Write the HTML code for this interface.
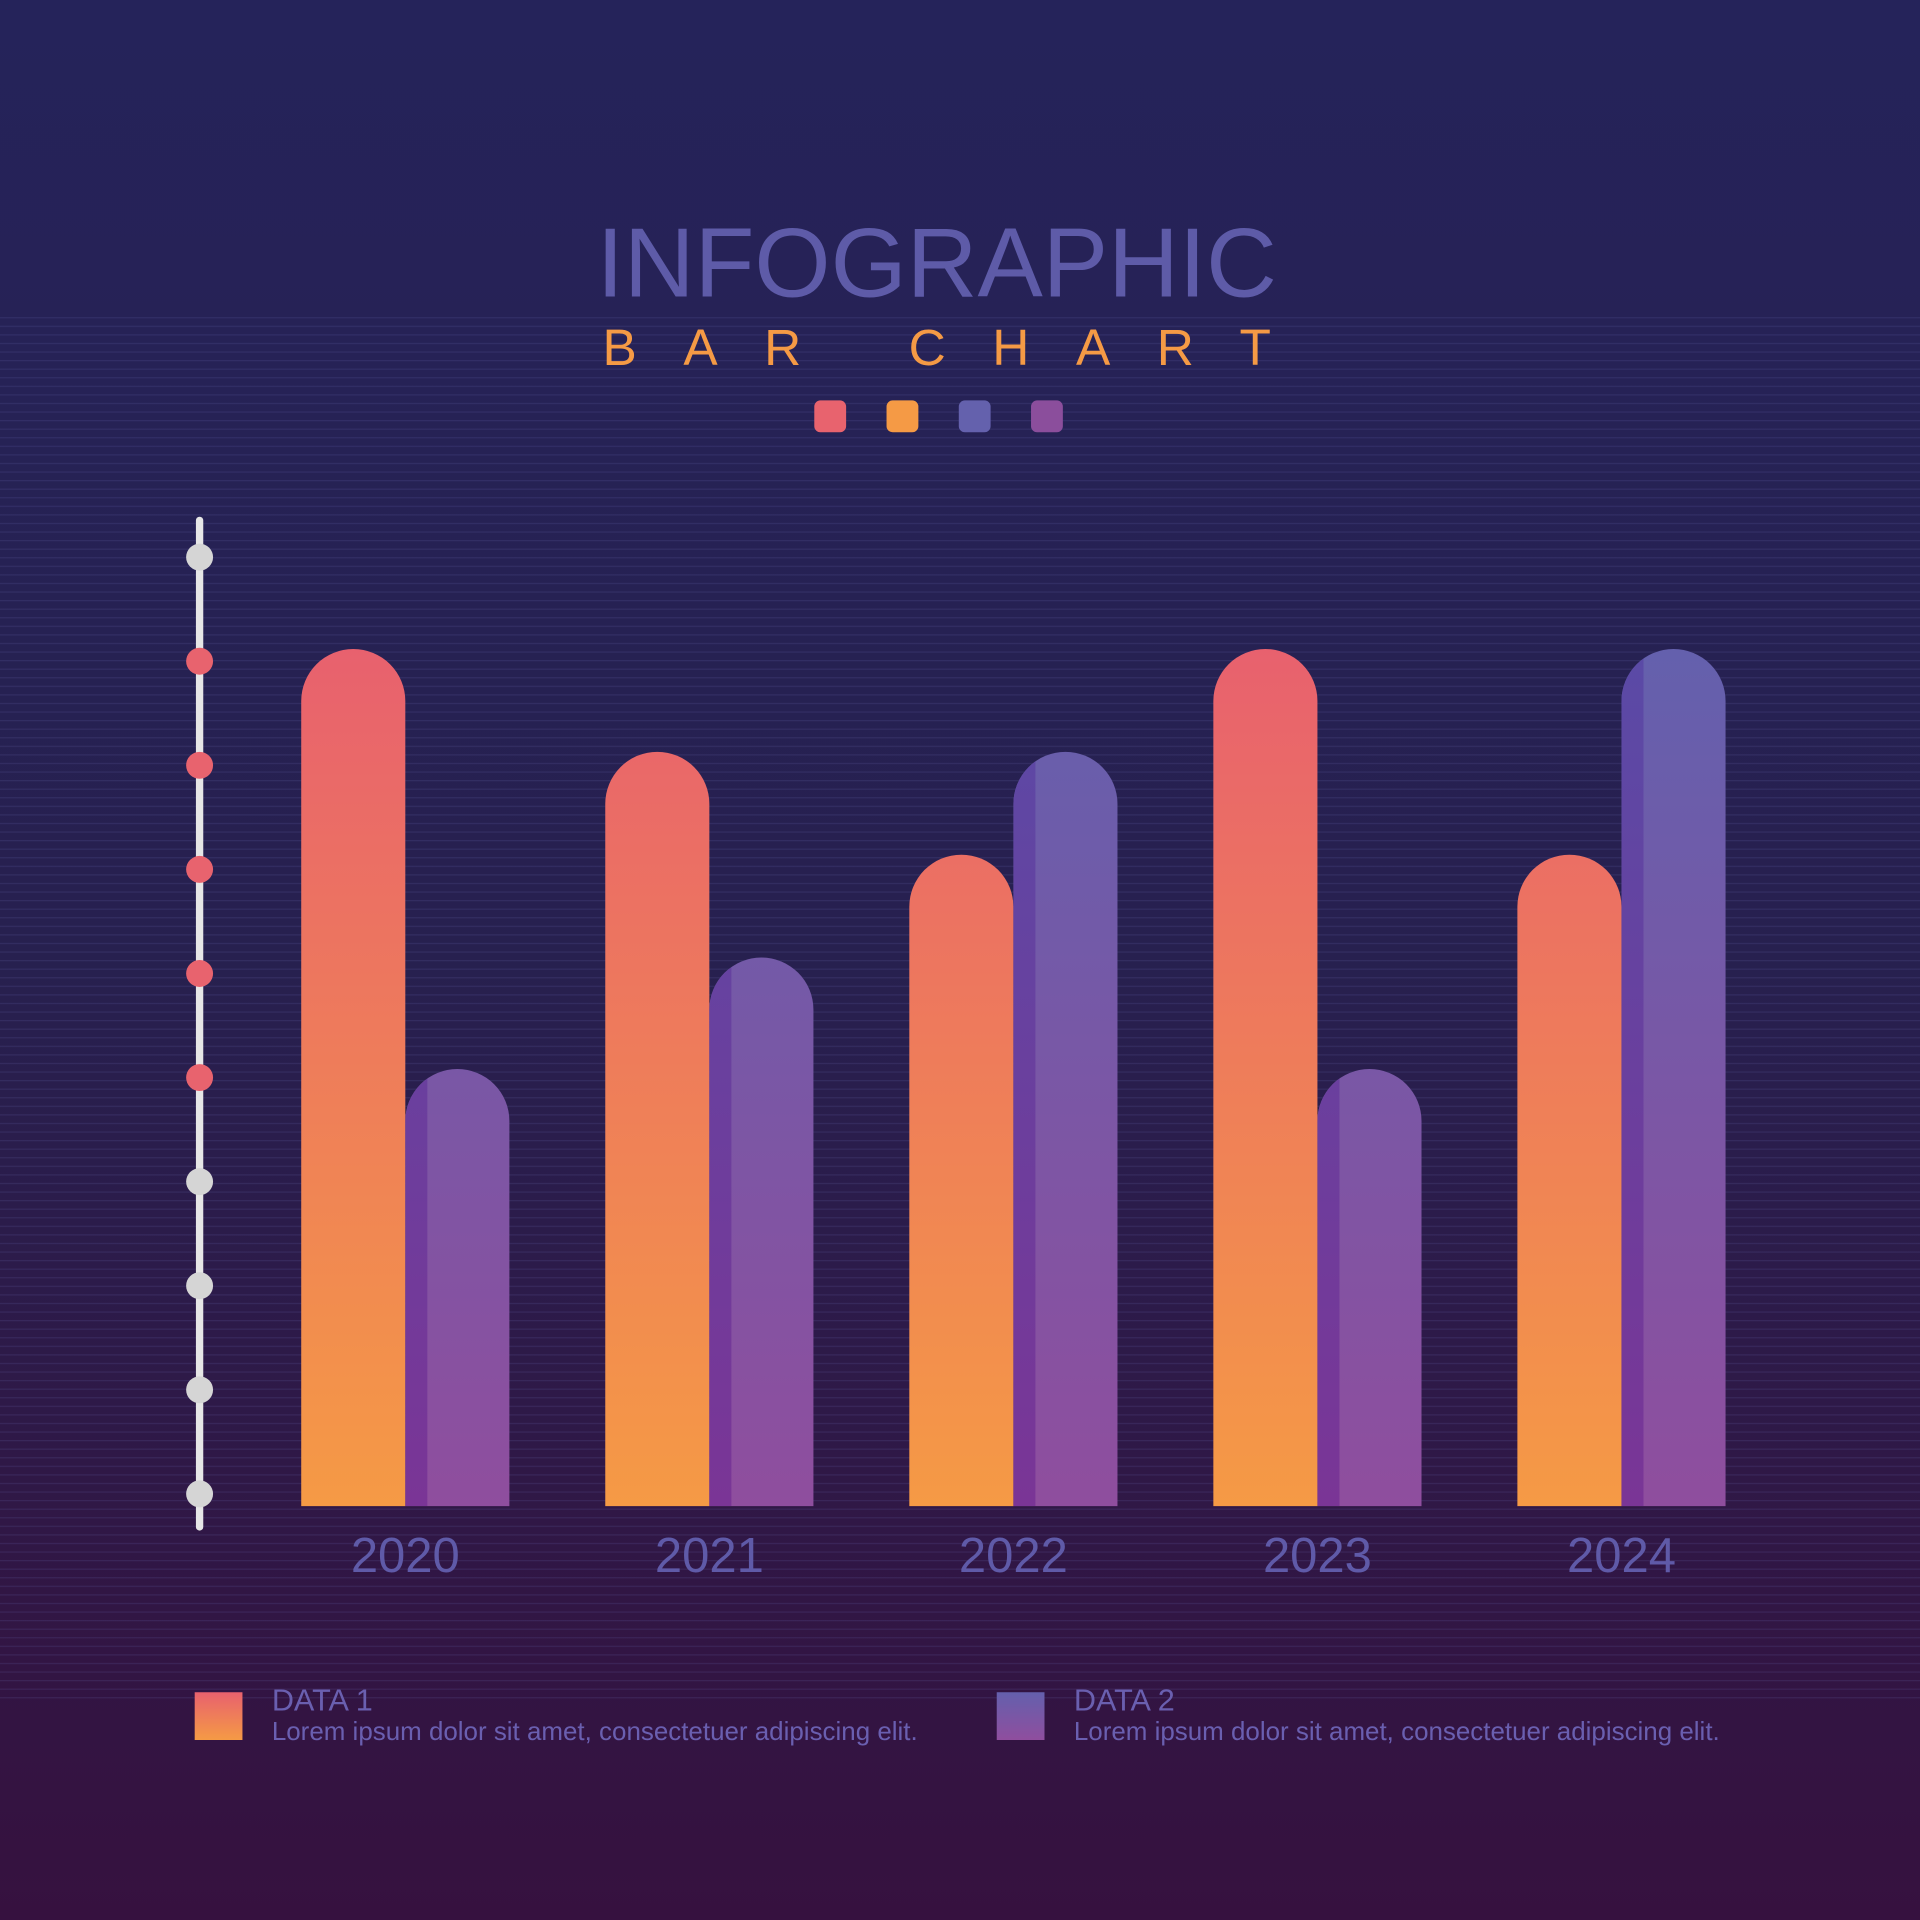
<!DOCTYPE html>
<html><head><meta charset="utf-8"><style>
html,body{margin:0;padding:0;width:1920px;height:1920px;overflow:hidden;background:#2c1a4c}
svg{display:block}
</style></head><body>
<svg id="chart" width="1920" height="1920" viewBox="0 0 1568 1568" xmlns="http://www.w3.org/2000/svg">
<defs>
<linearGradient id="bg" x1="0" y1="0" x2="0" y2="1">
<stop offset="0" stop-color="#25235a"/><stop offset="0.5" stop-color="#27204f"/><stop offset="1" stop-color="#36113f"/>
</linearGradient>
<pattern id="lines" width="8" height="7" patternUnits="userSpaceOnUse">
<rect width="8" height="1" fill="#6a6ab0" opacity="0.18"/>
</pattern>
<linearGradient id="g1" gradientUnits="userSpaceOnUse" x1="0" y1="530" x2="0" y2="1230">
<stop offset="0" stop-color="#e8616e"/><stop offset="1" stop-color="#f59a45"/>
</linearGradient>
<linearGradient id="g2" gradientUnits="userSpaceOnUse" x1="0" y1="530" x2="0" y2="1230">
<stop offset="0" stop-color="#6460ad"/><stop offset="1" stop-color="#8f4e9e"/>
</linearGradient>
<linearGradient id="g2s" gradientUnits="userSpaceOnUse" x1="0" y1="530" x2="0" y2="1230">
<stop offset="0" stop-color="#5a4aa6"/><stop offset="1" stop-color="#7a3596"/>
</linearGradient>
<linearGradient id="lg1" x1="0" y1="0" x2="0" y2="1"><stop offset="0" stop-color="#e8616e"/><stop offset="1" stop-color="#f59a45"/></linearGradient>
<linearGradient id="lg2" x1="0" y1="0" x2="0" y2="1"><stop offset="0" stop-color="#6460ad"/><stop offset="1" stop-color="#8f4e9e"/></linearGradient>
</defs>
<rect width="1568" height="1568" fill="url(#bg)"/>
<rect y="255" width="1568" height="1135" fill="url(#lines)"/>
<text x="765" y="242" text-anchor="middle" font-family="Liberation Sans, sans-serif" font-size="80" fill="#5e5ba8">INFOGRAPHIC</text>
<text x="784" y="298" text-anchor="middle" font-family="Liberation Sans, sans-serif" font-size="42" letter-spacing="38" fill="#f59a45">BAR CHART</text>
<rect x="665" y="327" width="26" height="26" rx="5" fill="#e8636e"/>
<rect x="724" y="327" width="26" height="26" rx="5" fill="#f59a45"/>
<rect x="783" y="327" width="26" height="26" rx="5" fill="#6461ad"/>
<rect x="842" y="327" width="26" height="26" rx="5" fill="#8b4e9c"/>
<line x1="163" y1="425" x2="163" y2="1247" stroke="#e6e6e6" stroke-width="6" stroke-linecap="round"/>
<g id="dots"></g>
<g id="bars"></g>
<g id="labels"></g>
<rect x="159" y="1382" width="39" height="39" fill="url(#lg1)"/>
<text x="222" y="1397" font-family="Liberation Sans, sans-serif" font-size="25" fill="#6a5fb0">DATA 1</text>
<text x="222" y="1421" font-family="Liberation Sans, sans-serif" font-size="21.2" fill="#6a5fb0">Lorem ipsum dolor sit amet, consectetuer adipiscing elit.</text>
<rect x="814" y="1382" width="39" height="39" fill="url(#lg2)"/>
<text x="877" y="1397" font-family="Liberation Sans, sans-serif" font-size="25" fill="#6a5fb0">DATA 2</text>
<text x="877" y="1421" font-family="Liberation Sans, sans-serif" font-size="21.2" fill="#6a5fb0">Lorem ipsum dolor sit amet, consectetuer adipiscing elit.</text>
</svg>
<script>
const categories = ["2020", "2021", "2022", "2023", "2024"];
const data1 = [100, 88, 76, 100, 76];
const data2 = [51, 64, 88, 51, 100];
const dotColors = ["grey","red","red","red","red","red","grey","grey","grey","grey"];

const NS = "http://www.w3.org/2000/svg";
const baseY = 1230, maxY = 530, maxV = 100;
function yScale(v){ return baseY - (v / maxV) * (baseY - maxY); }
const groupX0 = 246, groupStep = 248.3, barW = 85;
function xScale(i){ return groupX0 + i * groupStep; }

function mk(tag, attrs){ const e = document.createElementNS(NS, tag); for (const k in attrs) e.setAttribute(k, attrs[k]); return e; }
function barPath(x, top, w){
  const r = w / 2;
  return `M${x},${baseY} L${x},${top + r} A${r},${r} 0 0 1 ${x + w},${top + r} L${x + w},${baseY} Z`;
}

const dotsG = document.getElementById('dots');
dotColors.forEach((c, i) => {
  const d = mk('circle', {cx: 163, cy: 455 + i * 85, r: 11, fill: c === 'red' ? '#e8636e' : '#d5d5d5'});
  
  
  dotsG.appendChild(d);
});

const barsG = document.getElementById('bars');
const labelsG = document.getElementById('labels');
categories.forEach((cat, i) => {
  const x = xScale(i);
  const t1 = yScale(data1[i]);
  const b1 = mk('path', {d: barPath(x, t1, barW), fill: 'url(#g1)'});
  
  
  barsG.appendChild(b1);
  const x2 = x + barW;
  const t2 = yScale(data2[i]);
  const b2 = mk('path', {d: barPath(x2, t2, barW), fill: 'url(#g2)'});
  
  
  barsG.appendChild(b2);
  const clipId = 'c' + i;
  const cp = mk('clipPath', {id: clipId});
  cp.appendChild(mk('path', {d: barPath(x2, t2, barW)}));
  barsG.appendChild(cp);
  const s = mk('rect', {x: x2, y: t2, width: 18, height: baseY - t2, fill: 'url(#g2s)', 'clip-path': 'url(#' + clipId + ')'});
  
  
  barsG.appendChild(s);
  const lab = mk('text', {x: x + barW, y: 1284, 'text-anchor': 'middle', 'font-family': 'Liberation Sans, sans-serif', 'font-size': 40, fill: '#5f5aa8'});
  lab.textContent = cat;
  
  
  labelsG.appendChild(lab);
});
</script>
</body></html>
